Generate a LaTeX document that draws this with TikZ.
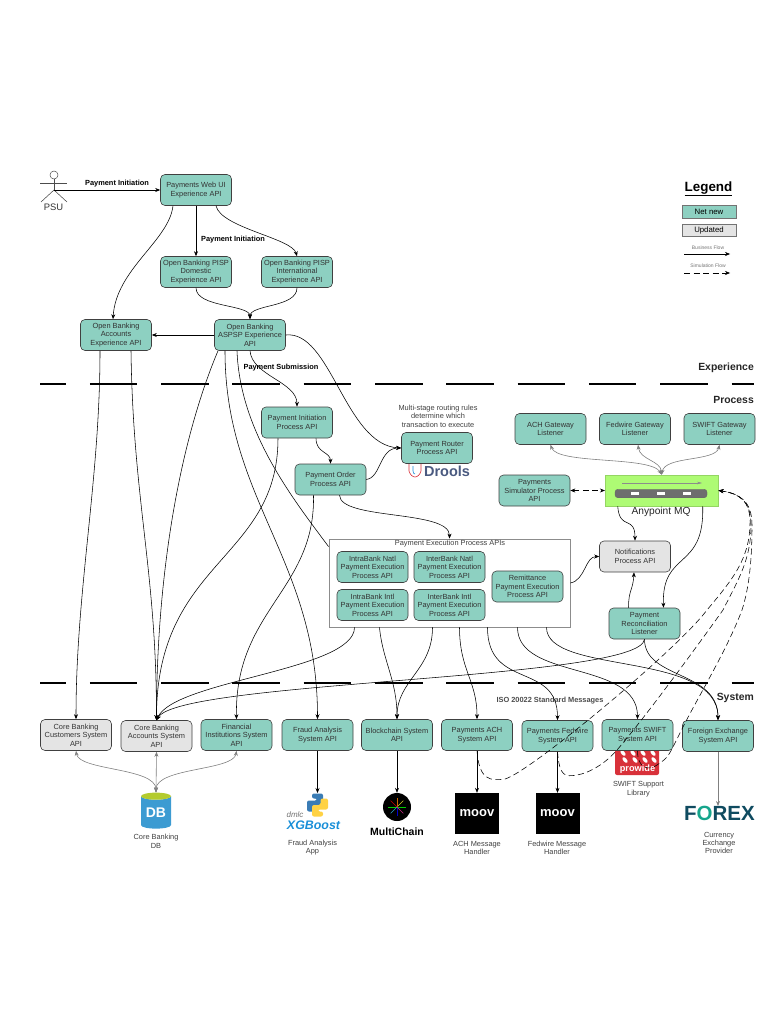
\documentclass[tikz,border=0pt]{standalone}
\usepackage{fontspec}
\setmainfont{Liberation Sans}
\usetikzlibrary{arrows.meta,shapes.geometric}
\definecolor{apiteal}{HTML}{8DD0C1}
\definecolor{updgray}{HTML}{E4E4E4}
\definecolor{edgegray}{HTML}{808080}
\definecolor{mqgreen}{HTML}{AEFB74}
\definecolor{pipegray}{HTML}{6E6E6E}
\definecolor{droolsblue}{HTML}{4A5A80}
\definecolor{provred}{HTML}{D8313A}
\definecolor{dbblue}{HTML}{3C9BD2}
\definecolor{dbtop}{HTML}{B4CB2E}
\definecolor{pyblue}{HTML}{3A7CB5}
\definecolor{pyyellow}{HTML}{FFD244}
\definecolor{xgblue}{HTML}{1A8FD8}
\definecolor{forexteal}{HTML}{0F4B60}
\definecolor{forexgreen}{HTML}{16A58C}
\newcommand{\apifont}{\fontsize{7.4}{8.4}\selectfont}

\begin{document}
\begin{tikzpicture}[
  x=1pt, y=-1pt,
  api/.style={rectangle, rounded corners=4.5pt, draw=black!75, line width=0.6pt, fill=apiteal,
    minimum width=71pt, minimum height=31pt, inner sep=0pt, align=center, text=black!80, font=\apifont},
  upd/.style={api, fill=updgray},
  caption/.style={align=center, text=black!75, font=\apifont},
  flowlabel/.style={text=black, font=\apifont\bfseries},
  layer/.style={anchor=east, inner sep=0pt, text=black!85, font=\fontsize{10.4}{12}\selectfont\bfseries},
  sep/.style={line width=1.5pt, dash pattern=on 47.5pt off 23.8pt, dash phase=21.5pt},
  wire/.style={line width=0.55pt},
  flow/.style={wire, -{Stealth[length=5pt,width=4pt]}},
  link/.style={line width=0.6pt, draw=edgegray, {Stealth[length=5pt,width=4pt]}-{Stealth[length=5pt,width=4pt]}},
  sim/.style={flow, dash pattern=on 6pt off 3.5pt},
  legendbox/.style={rectangle, draw=black!55, line width=0.9pt, minimum width=54pt, minimum height=12.5pt, inner sep=0pt, font=\fontsize{7.8}{9}\selectfont},
  moov/.style={rectangle, fill=black, minimum width=44pt, minimum height=41pt, inner sep=0pt, text=white, font=\fontsize{13}{15}\selectfont\bfseries}
]
  \useasboundingbox (0,0) rectangle (768,1024);

  % layer separators
  \coordinate (sepal) at (40,384);
  \coordinate (separ) at (754,384);
  \coordinate (sepbl) at (40,683);
  \coordinate (sepbr) at (754,683);
  \draw[sep] (sepal) -- (separ);
  \draw[sep] (sepbl) -- (sepbr);
  \node[layer] (lexp)  at (754,368) {Experience};
  \node[layer] (lproc) at (754,400) {Process};
  \node[layer] (lsys)  at (754,698) {System};

  % PSU
  \node[circle, draw=black!70, line width=0.5pt, minimum size=8pt, inner sep=0pt] (psuhead) at (54,175) {};
  \coordinate (psuhip) at (54,190);
  \coordinate (psuarml) at (40,183);
  \coordinate (psuarmr) at (67,183);
  \coordinate (psulegl) at (41,202);
  \coordinate (psulegr) at (67,202);
  \draw[wire, draw=black!70] (psuhead) -- (psuhip);
  \draw[wire, draw=black!70] (psuarml) -- (psuarmr);
  \draw[wire, draw=black!70] (psulegl) -- (psuhip) -- (psulegr);
  \node[text=black!80, font=\fontsize{9.4}{11}\selectfont] (psu) at (53.5,207) {PSU};

  % experience layer
  \node[api] (web)      at (196,190)  {Payments Web UI\\Experience API};
  \node[api] (domestic) at (196,272)  {Open Banking PISP\\Domestic\\Experience API};
  \node[api] (intl)     at (297,272)  {Open Banking PISP\\International\\Experience API};
  \node[api] (accounts) at (116,335)  {Open Banking\\Accounts\\Experience API};
  \node[api] (aspsp)    at (250,335)  {Open Banking\\ASPSP Experience\\API};

  % process layer
  \node[api] (initiation) at (297,422.5) {Payment Initiation\\Process API};
  \node[api] (order)      at (330.5,479.5) {Payment Order\\Process API};
  \node[api] (router)     at (437,448) {Payment Router\\Process API};
  \node[caption] (rules)  at (438,416) {Multi-stage routing rules\\determine which\\transaction to execute};
  \draw[draw=provred, line width=0.6pt, fill=white] (409,464) -- (409,471) .. controls (410,475) and (413,477) .. (415,477) .. controls (417,477) and (420,475) .. (421,471) -- (421,464);
  \draw[draw=xgblue, line width=0.6pt] (413,466) -- (413,471) .. controls (413,473) and (414,474) .. (415,474);
  \node[text=droolsblue, inner sep=0pt, font=\fontsize{14.5}{16}\selectfont\bfseries] (drools) at (447,471.5) {Drools};

  \node[rectangle, draw=black!45, line width=0.8pt, fill=white, minimum width=241pt, minimum height=88pt, inner sep=0pt] (exec) at (449.5,583) {};
  \node[caption] (exectitle) at (450,543.5) {Payment Execution Process APIs};
  \node[api] (intranatl) at (372.5,567) {IntraBank Natl\\Payment Execution\\Process API};
  \node[api] (internatl) at (449.5,567) {InterBank Natl\\Payment Execution\\Process API};
  \node[api] (intraintl) at (372.5,605) {IntraBank Intl\\Payment Execution\\Process API};
  \node[api] (interintl) at (449.5,605) {InterBank Intl\\Payment Execution\\Process API};
  \node[api] (remit)     at (527.5,586.5) {Remittance\\Payment Execution\\Process API};

  \node[api] (achgw) at (550.5,429) {ACH Gateway\\Listener};
  \node[api] (fedgw) at (635,429)   {Fedwire Gateway\\Listener};
  \node[api] (swgw)  at (719.5,429) {SWIFT Gateway\\Listener};
  \node[api] (simul) at (534.5,490.5) {Payments\\Simulator Process\\API};
  \node[upd] (notif) at (635,556.5) {Notifications\\Process API};
  \node[api] (recon) at (644.5,623.5) {Payment\\Reconciliation\\Listener};

  % Anypoint MQ with its pipe
  \node[rectangle, draw=mqgreen!85!black, line width=0.6pt, fill=mqgreen, minimum width=113pt, minimum height=31pt, inner sep=0pt] (mq) at (661.7,490.5) {};
  \node[rectangle, rounded corners=3pt, draw=black!60, line width=0.4pt, fill=pipegray, minimum width=92pt, minimum height=8.5pt, inner sep=0pt] (pipe) at (661,493.5) {};
  \foreach \xp in {635,661,687}
    \fill[white] (\xp-4,492) rectangle (\xp+4,495);
  \coordinate (pipearra) at (622,483);
  \coordinate (pipearrb) at (702,483);
  \draw[line width=0.5pt, draw=black!45, -{Stealth[length=5pt,width=2.6pt]}] (pipearra) -- (pipearrb);
  \node[text=black!85, font=\fontsize{10.2}{12}\selectfont] (mqname) at (661,512) {Anypoint MQ};

  % system layer
  \node[upd] (customers) at (76,735)    {Core Banking\\Customers System\\API};
  \node[upd] (cbaccts)   at (156.5,736) {Core Banking\\Accounts System\\API};
  \node[api] (fininst)   at (236.5,735) {Financial\\Institutions System\\API};
  \node[api] (fraud)     at (317.5,735) {Fraud Analysis\\System API};
  \node[api] (chain)     at (397,735)   {Blockchain System\\API};
  \node[api] (ach)       at (477,735)   {Payments ACH\\System API};
  \node[api] (fedwire)   at (557.5,736) {Payments Fedwire\\System API};

  % prowide sits just under the SWIFT box
  \node[rectangle, rounded corners=2pt, fill=provred, minimum width=44pt, minimum height=28pt, inner sep=0pt] (prowide) at (637,761) {};
  \foreach \xp in {623,633,643,653}
    \fill[white, rotate around={-50:(\xp,753)}] (\xp,753) ellipse (3.4pt and 1.8pt);
  \foreach \xp in {625,635,645,654}
    \fill[white, rotate around={-50:(\xp,760)}] (\xp,760) ellipse (3.4pt and 1.8pt);
  \node[text=white, inner sep=0pt, font=\fontsize{9.2}{11}\selectfont\bfseries] (prowtext) at (637.5,769) {prowide};
  \node[api] (swift) at (637.5,735) {Payments SWIFT\\System API};
  \node[api] (fx)    at (718,736)   {Foreign Exchange\\System API};

  % back end systems
  \node[cylinder, shape border rotate=90, aspect=0.35, cylinder uses custom fill, cylinder body fill=dbblue, cylinder end fill=dbtop,
    minimum width=30pt, minimum height=36pt, inner sep=0pt, text=white, font=\fontsize{14}{16}\selectfont\bfseries] (dbicon) at (156,812.5) {DB};
  \node[caption] (dbname) at (156,841.5) {Core Banking\\DB};

  \fill[pyblue, rounded corners=2pt] (312,793.5) -- (323,793.5) -- (323,805) -- (314.5,805) -- (314.5,811.5) -- (307,811.5) -- (307,800.5) -- (317,800.5) -- (317,798.5) -- (312,798.5) -- cycle;
  \fill[pyyellow, rounded corners=2pt] (323,816.5) -- (312,816.5) -- (312,805) -- (320.5,805) -- (320.5,798.5) -- (328,798.5) -- (328,809.5) -- (318,809.5) -- (318,811.5) -- (323,811.5) -- cycle;
  \coordinate (pytop) at (317.5,793);
  \node[text=black!55, inner sep=0pt, font=\fontsize{8}{9}\selectfont\itshape] (dmlc) at (295,814.5) {dmlc};
  \node[text=xgblue, inner sep=0pt, font=\fontsize{12.4}{14}\selectfont\bfseries\itshape] (xgb) at (313.5,825) {XGBoost};
  \node[caption] (fraudapp) at (312.5,847.5) {Fraud Analysis\\App};

  \node[circle, fill=black, minimum size=28pt, inner sep=0pt] (mchain) at (397,807) {};
  \foreach \ang/\col in {0/green, 45/yellow, 90/orange, 135/red, 180/green, 225/cyan, 270/blue, 315/magenta}
    \draw[draw=\col!80!black, line width=0.6pt] (397,807) -- ++(\ang:9pt);
  \node[text=black, inner sep=0pt, font=\fontsize{10.5}{12}\selectfont\bfseries] (mcname) at (397,831.5) {MultiChain};

  \node[moov] (moovach) at (477,813.5) {moov};
  \node[moov] (moovfed) at (557.5,813.5) {moov};
  \node[caption] (achname) at (477,848) {ACH Message\\Handler};
  \node[caption] (fedname) at (557,848) {Fedwire Message\\Handler};
  \node[caption] (swname)  at (638.5,789) {SWIFT Support\\Library};
  \node[inner sep=0pt, text=forexteal, font=\fontsize{20.5}{22}\selectfont\bfseries] (forex) at (719.5,813.5) {F\textcolor{forexgreen}{O}REX};
  \node[caption] (fxname)  at (719,843) {Currency\\Exchange\\Provider};

  % legend
  \node[text=black, inner sep=0pt, font=\fontsize{13.4}{15}\selectfont\bfseries] (legend) at (708.5,189) {\underline{Legend}};
  \node[legendbox, fill=apiteal] (lnew) at (709,212) {Net new};
  \node[legendbox, fill=updgray] (lupd) at (709,230.5) {Updated};
  \node[text=black!55, font=\fontsize{5}{6}\selectfont] (lbiz) at (708,248) {Business Flow};
  \node[text=black!55, font=\fontsize{5}{6}\selectfont] (lsim) at (708,266) {Simulation Flow};
  \coordinate (lbiza) at (684,254);
  \coordinate (lbizb) at (730,254);
  \coordinate (lsima) at (684,273);
  \coordinate (lsimb) at (730,273);
  \draw[flow] (lbiza) -- (lbizb);
  \draw[sim]  (lsima) -- (lsimb);

  % flow labels
  \node[flowlabel] (pi1) at (117,184) {Payment Initiation};
  \node[flowlabel] (pi2) at (233,240) {Payment Initiation};
  \node[flowlabel] (sub) at (281,368) {Payment Submission};
  \node[flowlabel, text=black!70] (iso) at (550,701) {ISO 20022 Standard Messages};

  % experience connectors
  \draw[flow] (psuhip) -- (web.west);
  \draw[flow] ([xshift=-23pt]web.south) .. controls +(-4,35) and +(3,-50) .. ([xshift=-3pt]accounts.north);
  \draw[flow] (web.south) -- (domestic.north);
  \draw[flow] ([xshift=20pt]web.south) .. controls +(5,22) and +(-5,-18) .. (intl.north);
  \draw[flow] (domestic.south) .. controls +(0,20) and +(0,-15) .. (aspsp.north);
  \draw[flow] (intl.south) .. controls +(0,20) and +(0,-15) .. (aspsp.north);
  \draw[flow] (aspsp.west) -- (accounts.east);
  \draw[flow] ([xshift=-16pt]accounts.south) .. controls +(0,130) and +(0,-130) .. (customers.north);
  \draw[flow] ([xshift=15pt]accounts.south) .. controls +(2,150) and +(0,-150) .. (cbaccts.north);
  \draw[flow] ([xshift=-32pt]aspsp.south) .. controls +(-40,95) and +(0,-140) .. (cbaccts.north);
  \draw[flow] ([xshift=-25pt]aspsp.south) .. controls +(0,149) and +(0,-159) .. (fraud.north);
  \draw[wire] ([xshift=-13pt]aspsp.south) .. controls +(3,79) and +(-39,-52) .. ([yshift=-8pt]exec.north west);
  \draw[flow] (aspsp.south) .. controls +(2,25) and +(0,-25) .. (initiation.north);
  \draw[flow] (aspsp.east) .. controls +(45,-5) and +(-56,-3) .. (router.west);

  % process connectors
  \draw[flow] ([xshift=-19pt]initiation.south) .. controls +(0,122) and +(0,-160) .. (cbaccts.north);
  \draw[flow] ([xshift=19pt]initiation.south) .. controls +(0,15) and +(0,-12) .. (order.north);
  \draw[flow] (order.east) .. controls +(15,-2) and +(-22,0) .. (router.west);
  \draw[flow] ([xshift=9pt]order.south) .. controls +(1,25) and +(0,-29) .. (exec.north);
  \draw[flow] ([xshift=-17pt]order.south) .. controls +(2,95) and +(-2,-109) .. (fininst.north);
  \draw[flow] ([xshift=-95pt]exec.south) .. controls +(0,43) and +(18,-40) .. (cbaccts.north);
  \draw[flow] (recon.south) .. controls +(-4,41) and +(23,-40) .. (cbaccts.north);
  \draw[flow] ([xshift=-70pt]exec.south) .. controls +(3,33) and +(0,-39) .. (chain.north);
  \draw[flow] ([xshift=-17pt]exec.south) .. controls +(0,43) and +(0,-39) .. (chain.north);
  \draw[flow] ([xshift=10pt]exec.south) .. controls +(0,43) and +(0,-39) .. (ach.north);
  \draw[flow] ([xshift=38pt]exec.south) .. controls +(0,63) and +(0,-59) .. (fedwire.north);
  \draw[flow] ([xshift=68pt]exec.south) .. controls +(0,53) and +(0,-59) .. (swift.north);
  \draw[flow] ([xshift=97pt]exec.south) .. controls +(0,48) and +(0,-70) .. (fx.north);
  \draw[flow] (recon.south) .. controls +(0,40) and +(0,-50) .. (fx.north);
  \draw[flow] ([xshift=41pt]mq.south) .. controls +(2,65) and +(-2,-58) .. ([xshift=19pt]recon.north);
  \draw[flow] ([xshift=-44pt]mq.south) .. controls +(2,25) and +(0,-26) .. (notif.north);
  \draw[flow] (exec.east) .. controls +(15,-3) and +(-14,0) .. (notif.west);
  \draw[flow] ([xshift=-16pt]recon.north) .. controls +(0,-18) and +(-1,18) .. ([xshift=-1pt]notif.south);

  % gateways and simulator
  \draw[link] (achgw.south) .. controls +(7,20) and +(-11,-19) .. (mq.north);
  \draw[link] ([xshift=3pt]fedgw.south) .. controls +(2,15) and +(-1,-14) .. (mq.north);
  \draw[link] (swgw.south) .. controls +(-4,17) and +(3,-19) .. (mq.north);
  \draw[sim, {Stealth[length=5pt,width=4pt]}-{Stealth[length=5pt,width=4pt]}] (simul.east) -- (mq.west);

  % simulation flows back to the queue
  \draw[sim] (ach.south) .. controls +(2,30) and +(-14,2) .. (505,779) .. controls +(25,-7) and +(-30,40) .. (707,610) .. controls +(25,-30) and +(-1,35) .. (750,525) .. controls +(1,-25) and +(20,3) .. (mq.east);
  \draw[sim] (fedwire.south) .. controls +(2,25) and +(-12,2) .. (577,775) .. controls +(12,-2) and +(-12,14) .. (617,750) .. controls +(30,-35) and +(-25,35) .. (723,610) .. controls +(15,-30) and +(0,35) .. (751,525) .. controls +(0,-25) and +(20,3) .. (mq.east);
  \draw[sim] (swift.south) .. controls +(0,18) and +(-8,6) .. (657,765) .. controls +(12,-8) and +(-15,30) .. (683,727) .. controls +(15,-30) and +(-15,40) .. (742,610) .. controls +(8,-25) and +(0,30) .. (752,525) .. controls +(0,-25) and +(20,3) .. (mq.east);

  % down to the back ends
  \draw[link] (customers.south) .. controls +(3,20) and +(0,-25) .. (dbicon.north);
  \draw[link] (cbaccts.south) -- (dbicon.north);
  \draw[link] (fininst.south) .. controls +(-3,20) and +(0,-25) .. (dbicon.north);
  \draw[flow] (fraud.south) -- (pytop);
  \draw[flow] (chain.south) -- (mchain.north);
  \draw[flow] (ach.south) -- (moovach.north);
  \draw[flow] (fedwire.south) -- (moovfed.north);
  \draw[flow, draw=edgegray, line width=0.9pt] (fx.south) -- (fx.south |- forex.north);
\end{tikzpicture}
\end{document}
